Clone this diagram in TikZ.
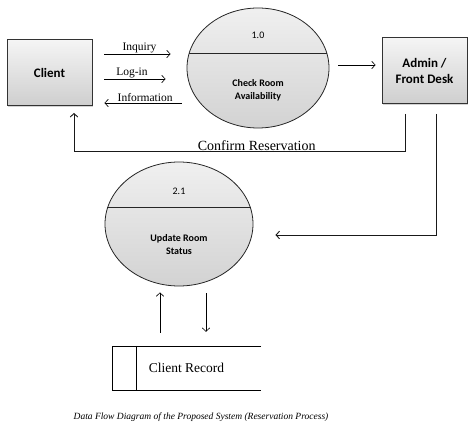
\documentclass[tikz,border=0pt]{standalone}
\usepackage{fontspec}
\setmainfont{Liberation Serif}
\newfontfamily\calibri{Carlito}
\usetikzlibrary{shapes, arrows, arrows.meta, positioning, shadows}

\begin{document}
\begin{tikzpicture}[x=1pt, y=1pt,
entity/.style={rectangle, text centered, align=center, draw=gray!40!black, thick,
top color=gray!8, bottom color=gray!38, inner sep=0pt,
font=\calibri\bfseries\fontsize{13}{16}\selectfont,
minimum width=85pt, minimum height=66pt,
drop shadow={shadow xshift=1.2pt, shadow yshift=-1.2pt, opacity=0.35}},
process/.style={ellipse, draw=gray!30!black, thick, top color=gray!12, bottom color=gray!35, inner sep=0pt},
proc-num/.style={font=\calibri\fontsize{10}{12}\selectfont},
proc-name/.style={align=center, font=\calibri\bfseries\fontsize{10}{13}\selectfont},
store/.style={minimum width=149pt, minimum height=44pt, inner sep=0pt, font=\fontsize{13.5}{16}\selectfont},
flow/.style={draw, -{Straight Barb[length=3.5pt, width=7.5pt]}, line width=0.6pt},
return/.style={draw, -{Straight Barb[length=3.5pt, width=7.5pt]}, line width=0.9pt, gray!20!black},
flow-label/.style={font=\fontsize{11.5}{13}\selectfont, inner sep=1pt, text=black},
caption/.style={font=\itshape\fontsize{9.5}{11}\selectfont}
]
\useasboundingbox (0,0) rectangle (474,-427);

% external entities
\node [entity] (client) at (49.5,-72.5) {Client};
\node [entity] (admin) at (424.5,-70.5) {Admin /\\Front Desk};

% processes
\node [process, minimum width=142pt, minimum height=120pt] (p1) at (258,-68) {};
\node [proc-num] (p1-num) at ([yshift=33]p1.center) {1.0};
\node [proc-name] (p1-name) at ([yshift=-22]p1.center) {Check Room\\Availability};
\draw [line width=1pt, gray!30!black] (p1.12) -- (p1.168);

\node [process, minimum width=148pt, minimum height=124pt] (p2) at (179,-224) {};
\node [proc-num] (p2-num) at ([yshift=33]p2.center) {2.1};
\node [proc-name] (p2-name) at ([yshift=-21]p2.center) {Update Room\\Status};
\draw [line width=1pt, gray!30!black] (p2.13) -- (p2.167);

% data store
\node [store] (rec) at (186.5,-368) {Client Record};
\draw (rec.north east) -- (rec.north west) -- (rec.south west) -- (rec.south east);
\draw ([xshift=24]rec.north west) -- ([xshift=24]rec.south west);

% data flows
\path [flow, shorten <=12pt, shorten >=16pt] (client.east |- 0,-54) -- (p1.west |- 0,-54)
  node [flow-label, midway, above] {Inquiry};
\path [flow, shorten <=12pt, shorten >=21pt] (client.east |- 0,-79) -- (p1.west |- 0,-79)
  node [flow-label, pos=0.42, above] {Log-in};
\path [flow, shorten <=5pt, shorten >=12pt] (p1.west |- 0,-103) -- (client.east |- 0,-103)
  node [flow-label, pos=0.44, above] {Information};
\path [flow, shorten <=9pt, shorten >=6pt] (p1.east |- 0,-65) -- (admin.west |- 0,-65);

\path [return, shorten <=10pt, shorten >=7pt] ([xshift=-19.5]admin.south) -- ++(0,-48) -| ([xshift=24.5]client.south)
  node [flow-label, font=\fontsize{14}{16}\selectfont, pos=0.224, above] {Confirm Reservation};
\path [return, shorten <=10pt, shorten >=22pt] ([xshift=11.5]admin.south) |- ([yshift=-11]p2.east);

\path [flow, shorten <=13pt, shorten >=6pt] ([xshift=-26.5]rec.north) -- ([xshift=-26.5]rec.north |- p2.south);
\path [flow, shorten <=7pt, shorten >=14pt] ([xshift=19.5]rec.north |- p2.south) -- ([xshift=19.5]rec.north);

% caption
\node [caption] (cap) at (201,-417) {Data Flow Diagram of the Proposed System (Reservation Process)};

\end{tikzpicture}
\end{document}
